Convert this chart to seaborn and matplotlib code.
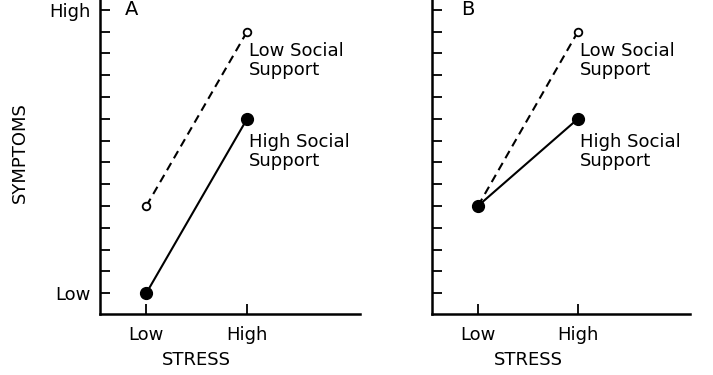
import matplotlib
matplotlib.use("Agg")
import matplotlib.pyplot as plt
import seaborn as sns
import pandas as pd

# ---- data ----
stress_levels = ["Low", "High"]
a_low_support = [4, 12]
a_high_support = [0, 8]
b_low_support = [4, 12]
b_high_support = [4, 8]
y_tick_values = list(range(14))
y_tick_labels = ["Low"] + [""] * 12 + ["High"]
panel_letters = ["A", "B"]
series_names = ["Low Social\nSupport", "High Social\nSupport"]

sns.set_style("ticks")
plt.rcParams["font.family"] = ["DejaVu Sans"]
for key in ["text.color", "axes.labelcolor", "xtick.color", "ytick.color",
            "axes.edgecolor"]:
    plt.rcParams[key] = "black"

fig = plt.figure(figsize=(7.13, 3.75), dpi=100)
ax_a = fig.add_axes([100 / 713, 61 / 375, 260 / 713, 314 / 375])
ax_b = fig.add_axes([432 / 713, 61 / 375, 258 / 713, 314 / 375])

panels = [(ax_a, a_low_support, a_high_support, -0.15),
          (ax_b, b_low_support, b_high_support, -0.10)]

FS = 13

for i, (ax, low_vals, high_vals, letter_x) in enumerate(panels):
    df_low = pd.DataFrame({"stress": stress_levels, "symptoms": low_vals})
    df_high = pd.DataFrame({"stress": stress_levels, "symptoms": high_vals})
    sns.lineplot(data=df_low, x="stress", y="symptoms", ax=ax, color="black",
                 linestyle=(0, (4, 2.6)), linewidth=1.5, marker="o",
                 markersize=5.5, markerfacecolor="white",
                 markeredgecolor="black", markeredgewidth=1.3, legend=False,
                 zorder=3)
    sns.lineplot(data=df_high, x="stress", y="symptoms", ax=ax, color="black",
                 linewidth=1.5, marker="o", markersize=8.5,
                 markerfacecolor="black", markeredgecolor="black",
                 markeredgewidth=1, legend=False, zorder=4)

    ax.set_xlim(-0.46, 2.12)
    ax.set_ylim(-0.96, 13.45)
    ax.set_xticks([0, 1])
    ax.set_xticklabels(stress_levels, fontsize=FS)
    ax.set_yticks(y_tick_values)
    if i == 0:
        ax.set_yticklabels(y_tick_labels, fontsize=FS)
    else:
        ax.set_yticklabels([""] * 14)
    ax.tick_params(axis="y", direction="in", length=7, width=1.3, pad=7)
    ax.tick_params(axis="x", direction="in", length=7, width=1.3, pad=9)
    ax.set_xlabel("")
    ax.set_ylabel("")
    for side in ["top", "right"]:
        ax.spines[side].set_visible(False)
    for side in ["left", "bottom"]:
        ax.spines[side].set_linewidth(1.8)
        ax.spines[side].set_color("black")

    ax.text(0.5, -0.147, "STRESS", transform=ax.get_xaxis_transform(),
            ha="center", va="center", fontsize=FS)
    ax.text(1.02, 11.5, series_names[0], ha="left", va="top", fontsize=FS,
            linespacing=1.05)
    ax.text(1.02, 7.35, series_names[1], ha="left", va="top", fontsize=FS,
            linespacing=1.05)
    ax.text(letter_x, 13.45, panel_letters[i], ha="center", va="top",
            fontsize=14, clip_on=False)

fig.text(20 / 713, 1 - 153 / 375, "SYMPTOMS", rotation=90, ha="center",
         va="center", fontsize=FS)

fig.savefig("out.png", dpi=100)
